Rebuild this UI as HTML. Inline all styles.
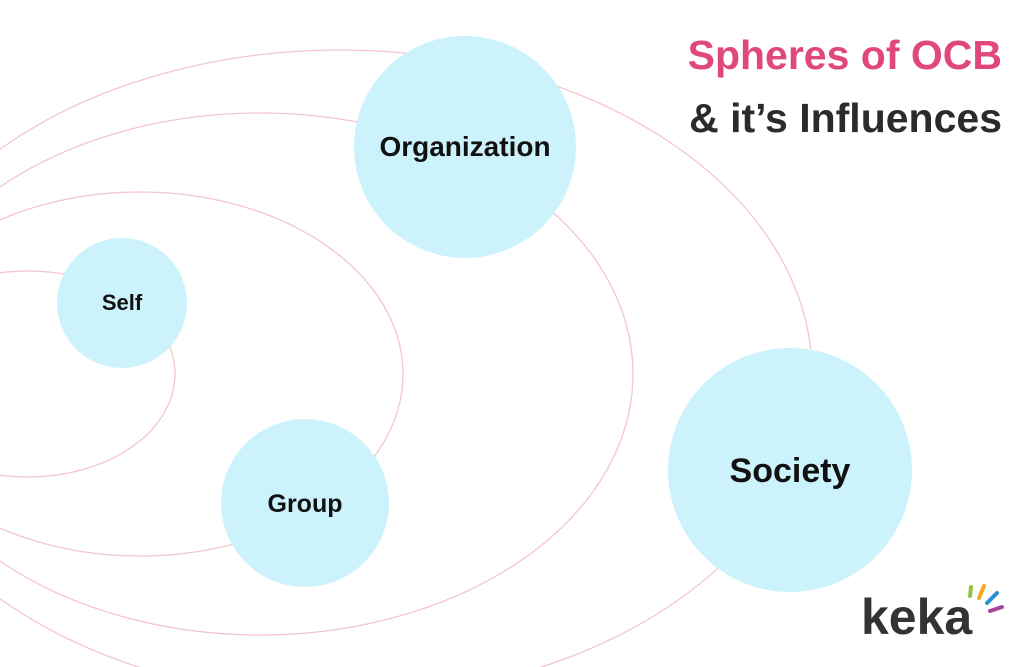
<!DOCTYPE html>
<html><head><meta charset="utf-8"><style>
body{margin:0;width:1024px;height:667px;overflow:hidden;background:#fff;font-family:"Liberation Sans",sans-serif}
svg{position:absolute;left:0;top:0}
</style></head><body>
<svg width="1024" height="667" viewBox="0 0 1024 667">
<g fill="none" stroke="#f3c6cf" stroke-width="1.3">
<ellipse cx="28" cy="374" rx="147" ry="103"/>
<ellipse cx="140" cy="374" rx="263" ry="182"/>
<ellipse cx="260" cy="374" rx="373" ry="261"/>
<ellipse cx="340" cy="374" rx="472" ry="324"/>
</g>
<g fill="#ccf2fc">
<circle cx="465" cy="147" r="111"/>
<circle cx="122" cy="303" r="65"/>
<circle cx="305" cy="503" r="84"/>
<circle cx="790" cy="470" r="122"/>
</g>
<g font-family="Liberation Sans, sans-serif" font-weight="bold" fill="#111" text-anchor="middle">
<text x="465" y="156" font-size="28">Organization</text>
<text x="122" y="310" font-size="22">Self</text>
<text x="305" y="512" font-size="25">Group</text>
<text x="790" y="482" font-size="34">Society</text>
</g>
<g font-family="Liberation Sans, sans-serif" font-weight="bold" text-anchor="end">
<text x="1002" y="69" font-size="41" fill="#e0487d">Spheres of OCB</text>
<text x="1002" y="132" font-size="41" fill="#2b2b2b">&amp; it’s Influences</text>
</g>
<text x="861" y="634" font-family="Liberation Sans, sans-serif" font-weight="bold" font-size="50" fill="#333">keka</text>
<g stroke-linecap="round" stroke-width="4">
<line x1="971" y1="587" x2="970" y2="596" stroke="#8cc63f"/>
<line x1="984" y1="586" x2="979" y2="598" stroke="#f5a623"/>
<line x1="997" y1="593" x2="987" y2="603" stroke="#2a8fd6"/>
<line x1="1002" y1="607" x2="990" y2="611" stroke="#a8449c"/>
</g>
</svg>
</body></html>
